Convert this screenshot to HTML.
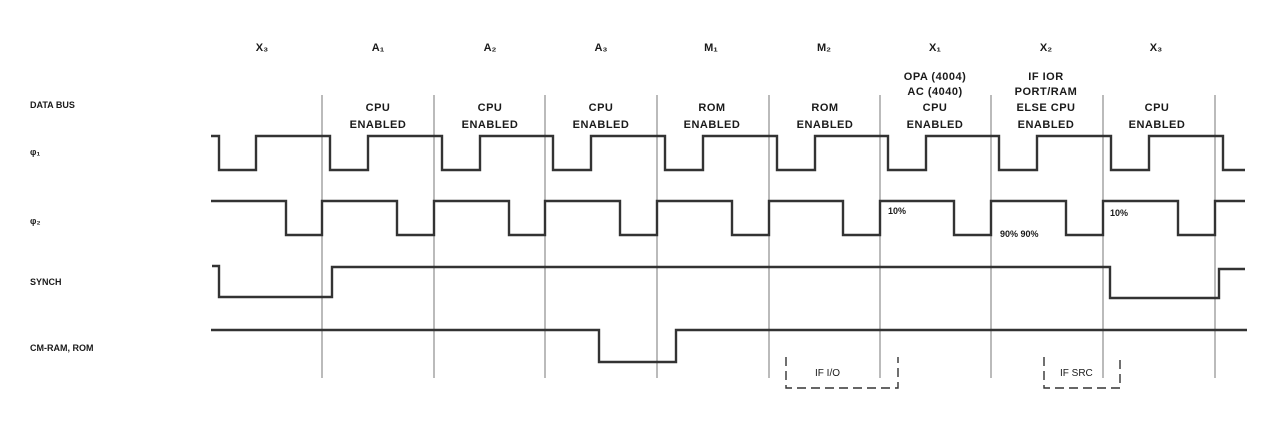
<!DOCTYPE html>
<html><head><style>
html,body{margin:0;padding:0;background:#fff;}
svg{display:block;}
text{font-family:"Liberation Sans",sans-serif;fill:#1a1a1a;}
.c{font-size:11px;text-anchor:middle;letter-spacing:0.5px;font-weight:bold;}
.l{font-size:9px;font-weight:bold;}
.h{font-size:11px;text-anchor:middle;font-weight:bold;}
</style></head><body>
<svg width="1280" height="426" viewBox="0 0 1280 426" xmlns="http://www.w3.org/2000/svg">
<g stroke="#777" stroke-width="1">
<line x1="322" y1="95" x2="322" y2="378"/><line x1="434" y1="95" x2="434" y2="378"/>
<line x1="545" y1="95" x2="545" y2="378"/><line x1="657" y1="95" x2="657" y2="378"/>
<line x1="769" y1="95" x2="769" y2="378"/><line x1="880" y1="95" x2="880" y2="378"/>
<line x1="991" y1="95" x2="991" y2="378"/><line x1="1103" y1="95" x2="1103" y2="378"/>
<line x1="1215" y1="95" x2="1215" y2="378"/>
</g>
<g fill="none" stroke="#333" stroke-width="2.4">
<path d="M211 136 H219 V170 H256 V136 H330 V170 H368 V136 H442 V170 H480 V136 H553 V170 H591 V136 H665 V170 H703 V136 H777 V170 H815 V136 H888 V170 H926 V136 H999 V170 H1037 V136 H1111 V170 H1149 V136 H1223 V170 H1245"/>
<path d="M211 201 H286 V235 H322 V201 H397 V235 H434 V201 H509 V235 H545 V201 H620 V235 H657 V201 H732 V235 H769 V201 H843 V235 H880 V201 H954 V235 H991 V201 H1066 V235 H1103 V201 H1178 V235 H1215 V201 H1245"/>
<path d="M212 266 H219 V297 H332 V267 H1110 V298 H1219 V269 H1245"/>
<path d="M211 330 H599 V362 H676 V330 H1247"/>
</g>
<g fill="none" stroke="#333" stroke-width="1.4" stroke-dasharray="9,5">
<path d="M786 357 V388 H898 V357"/>
<path d="M1044 357 V388 H1120 V357"/>
</g>
<g class="h">
<text x="262" y="51">X₃</text><text x="378" y="51">A₁</text><text x="490" y="51">A₂</text>
<text x="601" y="51">A₃</text><text x="711" y="51">M₁</text><text x="824" y="51">M₂</text>
<text x="935" y="51">X₁</text><text x="1046" y="51">X₂</text><text x="1156" y="51">X₃</text>
</g>
<g class="c">
<text x="378" y="111">CPU</text><text x="378" y="128">ENABLED</text>
<text x="490" y="111">CPU</text><text x="490" y="128">ENABLED</text>
<text x="601" y="111">CPU</text><text x="601" y="128">ENABLED</text>
<text x="712" y="111">ROM</text><text x="712" y="128">ENABLED</text>
<text x="825" y="111">ROM</text><text x="825" y="128">ENABLED</text>
<text x="935" y="80">OPA (4004)</text><text x="935" y="95">AC (4040)</text>
<text x="935" y="111">CPU</text><text x="935" y="128">ENABLED</text>
<text x="1046" y="80">IF IOR</text><text x="1046" y="95">PORT/RAM</text>
<text x="1046" y="111">ELSE CPU</text><text x="1046" y="128">ENABLED</text>
<text x="1157" y="111">CPU</text><text x="1157" y="128">ENABLED</text>
</g>
<g class="l">
<text x="30" y="108">DATA BUS</text>
<text x="30" y="155">φ₁</text>
<text x="30" y="224">φ₂</text>
<text x="30" y="285">SYNCH</text>
<text x="30" y="351">CM-RAM, ROM</text>
<text x="888" y="214">10%</text>
<text x="1000" y="237">90% 90%</text>
<text x="1110" y="216">10%</text>
<text x="815" y="376" style="font-weight:normal;font-size:10px">IF I/O</text>
<text x="1060" y="376" style="font-weight:normal;font-size:10px">IF SRC</text>
</g>
</svg>
</body></html>
